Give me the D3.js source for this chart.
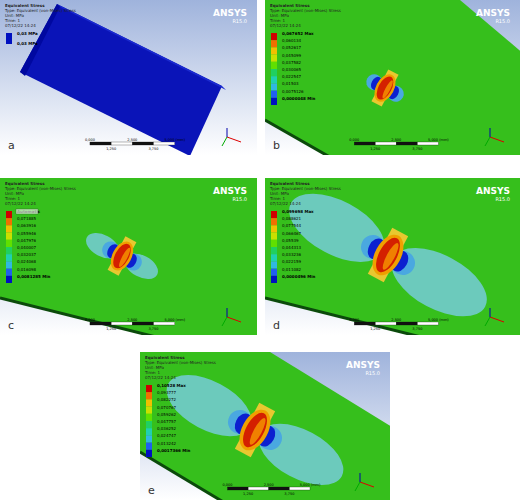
<!DOCTYPE html><html><head><meta charset="utf-8">
<script src="https://cdn.jsdelivr.net/npm/d3@7"></script>
<style>body{margin:0;background:#fff}svg{display:block}</style></head><body>
<svg id="c" width="520" height="501"></svg>
<script>
const panelIds=["a","b","c","d","e"];
const legendA=["0,03 MPa","0,03 MPa"];
const legendB=["0,067652 Max","0,060134","0,052617","0,045099","0,037582","0,030065","0,022547","0,01503","0,0075126","0,0000048 Min"];
const legendC=["Automatic","0,071885","0,063916","0,055946","0,047976","0,040007","0,032037","0,024068","0,016098","0,0081285 Min"];
const legendD=["0,099698 Max","0,088621","0,077544","0,066467","0,05539","0,044313","0,033236","0,022159","0,011082","0,0000496 Min"];
const legendE=["0,10528 Max","0,093777","0,082272","0,070767","0,059262","0,047757","0,036252","0,024747","0,013242","0,0017366 Min"];
const lobeScale=[0,0,0.1,1,0.85];
const coreScale=[0,0.2,0.3,1,1];
const scaleTicks=["0,000","1,250","2,500","3,750","5,000 (mm)"];
const colors=["#d00000","#f07000","#f0c000","#c8e000","#60e000","#20d060","#20d0b0","#30b8e0","#2060f0","#0010c0"];
const panels=[[0,0,257,155],[265,0,255,155],[0,178,257,157],[265,178,255,157],[140,352,250,148]];
const svg=d3.select("#c");
const defs=svg.append("defs");
const g0=defs.append("linearGradient").attr("id","bg").attr("x1",0).attr("y1",0).attr("x2",0).attr("y2",1);
g0.append("stop").attr("offset",0).attr("stop-color","#9fb3dc");g0.append("stop").attr("offset",1).attr("stop-color","#ffffff");
const legends=[legendA,legendB,legendC,legendD,legendE];
const cy=d3.scaleLinear().domain([0,9]).range([0,9*7.2]);
panels.forEach((p,i)=>{
  const [x,y,w,h]=p;
  const g=svg.append("g").attr("transform",`translate(${x},${y})`);
  g.append("clipPath").attr("id","cl"+i).append("rect").attr("width",w).attr("height",h);
  const gg=g.append("g").attr("clip-path",`url(#cl${i})`);
  gg.append("rect").attr("width",w).attr("height",h).attr("fill","url(#bg)");
  if(i===0){
    gg.append("polygon").attr("points",[[20,72],[57,4],[222,86],[190,156]].join(" ")).attr("fill","#0a14b8");
    gg.append("polygon").attr("points",[[57,4],[62,8],[226,90],[222,86]].join(" ")).attr("fill","#1a2ad0");
    gg.append("polygon").attr("points",[[20,72],[57,4],[60,7],[25,76]].join(" ")).attr("fill","#0008a0");
  } else {
    const pts=i===4?[[0,0],[130,0],[260,80],[260,160],[100,160],[0,100]]:
      i===1?[[0,0],[195,0],[260,55],[260,160],[70,160],[0,120]]:
      [[0,0],[260,0],[260,160],[160,160],[0,120]];
    gg.append("polygon").attr("points",pts.join(" ")).attr("fill","#36bf1c");
    const e=pts.filter((q,k)=>k>=pts.length-2);
    gg.append("line").attr("x1",e[0][0]).attr("y1",e[0][1]).attr("x2",e[1][0]).attr("y2",e[1][1]).attr("stroke","#0b4a0b").attr("stroke-width",3);
    const c=[[120,100],[120,88],[122,78],[123,77],[115,78]][i];
    const s=lobeScale[i], q=coreScale[i];
    const cg=gg.append("g").attr("transform",`translate(${c[0]},${c[1]}) rotate(28)`);
    [-1,1].forEach(d=>{
      if(s>0) cg.append("ellipse").attr("cx",d*(18+40*s)).attr("cy",0).attr("rx",14+38*s).attr("ry",9+18*s).attr("fill","#6ccabc");
      cg.append("ellipse").attr("cx",d*(11+6*q)).attr("cy",0).attr("rx",7+5*q).attr("ry",7+5*q).attr("fill","#4aa8e0");
      cg.append("ellipse").attr("cx",d*(9+4*q)).attr("cy",0).attr("rx",4+4*q).attr("ry",6+5*q).attr("fill","#0c20d0");
    });
    cg.append("rect").attr("x",-5-4*q).attr("y",-16-10*q).attr("width",10+8*q).attr("height",32+20*q).attr("fill","#e8c830");
    cg.append("ellipse").attr("rx",8+5*q).attr("ry",13+9*q).attr("fill","#f0a000");
    cg.append("ellipse").attr("rx",6+3*q).attr("ry",11+8*q).attr("fill","#d42000");
    cg.append("ellipse").attr("cx",3).attr("rx",2+2*q).attr("ry",9+6*q).attr("fill","#f08000");
  }
  const t=g.append("g").attr("font-family","DejaVu Sans").attr("font-size",4).attr("fill","#222");
  ["Equivalent Stress","Type: Equivalent (von-Mises) Stress","Unit: MPa","Time: 1","07/12/22 14:24"].forEach((s,k)=>t.append("text").attr("x",5).attr("y",7+k*5).text(s).attr("font-weight",k?null:"bold"));
  const L=legends[i];
  const lg=g.append("g").attr("transform","translate(6,33)");
  if(i===0){
    lg.append("rect").attr("y",0).attr("width",6).attr("height",11).attr("fill","#0010c0");
    L.forEach((s,k)=>lg.append("text").attr("x",11).attr("y",2+k*10).attr("font-family","DejaVu Sans").attr("font-size",4).attr("font-weight","bold").text(s));
  } else {
    L.forEach((s,k)=>{
      lg.append("rect").attr("y",cy(k)).attr("width",6).attr("height",7.2).attr("fill",colors[k]);
      lg.append("text").attr("x",11).attr("y",cy(k)+2).attr("font-family","DejaVu Sans").attr("font-size",4).attr("font-weight",(k===0||k===9)?"bold":null).text(s);
    });
    if(i===2) lg.append("rect").attr("x",10).attr("y",-2).attr("width",22).attr("height",5).attr("fill","#fff").attr("fill-opacity",0.6).attr("stroke","#333").attr("stroke-width",.3);
  }
  g.append("text").attr("x",w-10).attr("y",16).attr("text-anchor","end").attr("font-family","DejaVu Sans").attr("font-weight","bold").attr("font-size",9).attr("fill","#fff").text("ANSYS");
  g.append("text").attr("x",w-10).attr("y",23).attr("text-anchor","end").attr("font-family","DejaVu Sans").attr("font-size",5).attr("fill","#fff").text("R15.0");
  const sx=d3.scaleLinear().domain([0,5]).range([w*0.35,w*0.68]);
  const sb=g.append("g").attr("transform",`translate(0,${h-13})`);
  [0,1,2,3].forEach(k=>sb.append("rect").attr("x",sx(k*1.25)).attr("width",sx(1.25)-sx(0)).attr("height",3).attr("fill",k%2?"#fff":"#111").attr("stroke","#111").attr("stroke-width",.3));
  scaleTicks.forEach((s,k)=>sb.append("text").attr("x",sx(k*1.25)).attr("y",k%2? 8:-1.5).attr("text-anchor","middle").attr("font-family","DejaVu Sans").attr("font-size",3.5).text(s));
  const ax=g.append("g").attr("transform",`translate(${w-30},${h-18})`);
  ax.append("line").attr("x2",14).attr("y2",5).attr("stroke","#d00").attr("stroke-width",1);
  ax.append("line").attr("y2",-9).attr("stroke","#00a").attr("stroke-width",1);
  ax.append("line").attr("x2",-5).attr("y2",9).attr("stroke","#0a0").attr("stroke-width",1);
  g.append("text").attr("x",8).attr("y",h-6).attr("font-family","DejaVu Sans").attr("font-size",11).attr("fill","#333").text(panelIds[i]);
});
</script></body></html>
